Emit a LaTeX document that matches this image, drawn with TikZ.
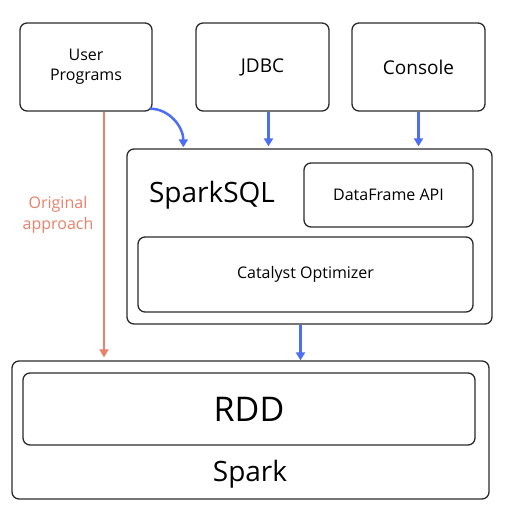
\documentclass[tikz,border=0pt]{standalone}
\usepackage{fontspec}
\setmainfont{Open Sans}
\usepackage{tikz}
\usetikzlibrary{arrows.meta,positioning,calc}
\definecolor{arrowblue}{HTML}{4C6EF5}
\definecolor{oldred}{HTML}{E8806A}
\definecolor{boxline}{HTML}{2B2B2B}

\begin{document}
\begin{tikzpicture}[x=1pt,y=-1pt,
  box/.style={draw=boxline,line width=1.3pt,rounded corners=7pt,inner sep=0pt,align=center},
  flow/.style={draw=arrowblue,line width=2.5pt,-{Triangle[length=8pt,width=9pt]}},
  oldflow/.style={draw=oldred,line width=2.5pt,-{Triangle[length=8pt,width=9pt]}}]
\useasboundingbox (0,0) rectangle (508,516);
% clients
\node[box,minimum width=132,minimum height=88,font=\fontsize{16}{20}\selectfont] (user) at (86,67) {User\\Programs};
\node[box,minimum width=133,minimum height=88,font=\fontsize{19}{22}\selectfont] (jdbc) at (262.5,67) {JDBC};
\node[box,minimum width=133,minimum height=88,font=\fontsize{19}{22}\selectfont] (console) at (418.5,67) {Console};
% SparkSQL layer
\node[box,minimum width=365,minimum height=175] (sparksql) at (309.5,236.5) {};
\node[font=\fontsize{28}{30}\selectfont] (sqllabel) at (212,195) {SparkSQL};
\node[box,minimum width=169,minimum height=64,font=\fontsize{16}{18}\selectfont] (dataframe) at (388.5,195) {DataFrame API};
\node[box,minimum width=335,minimum height=75,font=\fontsize{16}{18}\selectfont] (catalyst) at (305.5,274.5) {Catalyst Optimizer};
% Spark core
\node[box,minimum width=477,minimum height=138] (spark) at (250.5,430) {};
\node[box,minimum width=452,minimum height=72,font=\fontsize{34}{36}\selectfont] (rdd) at (249,409) {RDD};
\node[font=\fontsize{28}{30}\selectfont] (sparklabel) at (250,474) {Spark};
\node[text=oldred,align=center,font=\fontsize{16}{21}\selectfont] (oldlabel) at (58,215) {Original\\approach};
% connectors
\draw[oldflow] ([xshift=18pt]user.south) -- ([xshift=18pt,yshift=3pt]user.south |- spark.north);
\draw[flow] ([xshift=-3pt,yshift=3pt]user.south east) to[out=0,in=90] ([xshift=57pt,yshift=1pt]sparksql.north west);
\draw[flow] ([xshift=6pt]jdbc.south) -- ([xshift=6pt,yshift=2pt]jdbc.south |- sparksql.north);
\draw[flow] (console.south) -- ([yshift=2pt]console.south |- sparksql.north);
\draw[flow] ([xshift=-9pt]sparksql.south) -- ([xshift=-9pt]sparksql.south |- spark.north);
\end{tikzpicture}
\end{document}
